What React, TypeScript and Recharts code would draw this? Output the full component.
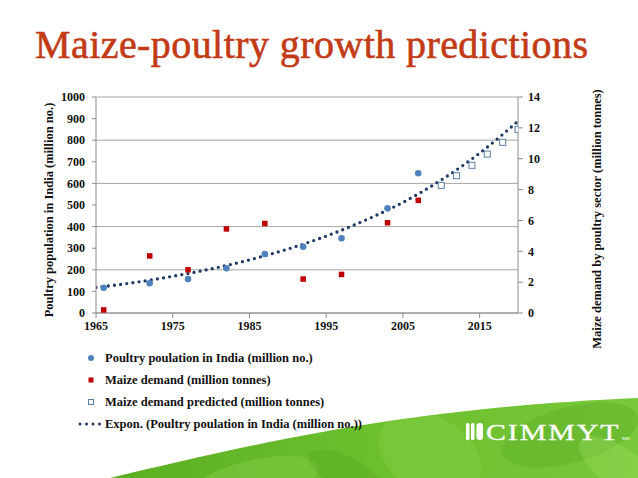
import React from 'react';
import {
  ComposedChart,
  Scatter,
  Line,
  XAxis,
  YAxis,
  CartesianGrid,
} from 'recharts';

// Observed years and values
const years = [1966, 1972, 1977, 1982, 1987, 1992, 1997, 2003, 2007];
const poultryPopulation = [117, 138, 157, 207, 273, 307, 346, 485, 647];
const maizeDemand = [0.2, 3.7, 2.8, 5.45, 5.8, 2.2, 2.5, 5.85, 7.3];

// Projected maize demand
const predictedYears = [2010, 2012, 2014, 2016, 2018, 2020];
const maizePredicted = [8.27, 8.9, 9.57, 10.3, 11.06, 11.9];

// Exponential trend of the poultry population
const trendYears = [1965, 1970, 1975, 1980, 1985, 1990, 1995, 2000, 2005, 2010, 2015, 2020];
const poultryTrend = [118, 141, 170, 204, 246, 296, 356, 428, 512, 616, 740, 888];

const xTicks = [1965, 1975, 1985, 1995, 2005, 2015];
const leftTicks = [0, 100, 200, 300, 400, 500, 600, 700, 800, 900, 1000];
const rightTicks = [0, 2, 4, 6, 8, 10, 12, 14];

const legendLabels = [
  'Poultry poulation in India (million no.)',
  'Maize demand (million tonnes)',
  'Maize demand predicted (million tonnes)',
  'Expon. (Poultry poulation in India (million no.))',
];

const poultryData = years.map((year, i) => ({ year, value: poultryPopulation[i] }));
const maizeData = years.map((year, i) => ({ year, value: maizeDemand[i] }));
const predictedData = predictedYears.map((year, i) => ({ year, value: maizePredicted[i] }));
const trendData = trendYears.map((year, i) => ({ year, value: poultryTrend[i] }));

const SERIF = '"Liberation Serif", "Times New Roman", serif';
const BLUE = '#4f81bd';
const RED = '#c00000';
const NAVY = '#1f3864';
const SQ = 5.5;

const tickStyle = { fontFamily: SERIF, fontSize: 12, fontWeight: 700, fill: '#111' };
const axisTitleStyle = { fontFamily: SERIF, fontSize: 12.5, fontWeight: 700, fill: '#111' };

const BlueDot = (p: any) => <circle cx={p.cx} cy={p.cy} r={3.3} fill={BLUE} />;
const RedSquare = (p: any) => (
  <rect x={p.cx - SQ / 2} y={p.cy - SQ / 2} width={SQ} height={SQ} fill={RED} />
);
const HollowSquare = (p: any) => (
  <rect
    x={p.cx - 3}
    y={p.cy - 3}
    width={6}
    height={6}
    fill="#fff"
    stroke="#5b7fa8"
    strokeWidth={1}
  />
);

function LegendMarker({ index }: { index: number }) {
  return (
    <svg width={30} height={12} style={{ display: 'block' }}>
      {index === 0 && <circle cx={16} cy={6} r={3} fill={BLUE} />}
      {index === 1 && <rect x={13.5} y={3.5} width={5} height={5} fill={RED} />}
      {index === 2 && (
        <rect x={13.5} y={3.5} width={5} height={5} fill="#fff" stroke="#5b7fa8" strokeWidth={1} />
      )}
      {index === 3 && (
        <line
          x1={5}
          y1={6}
          x2={29}
          y2={6}
          stroke={NAVY}
          strokeWidth={3}
          strokeLinecap="round"
          strokeDasharray="0 6.5"
        />
      )}
    </svg>
  );
}

const BAND = 'M 110 478 C 250 445, 400 408, 638 398 L 638 478 Z';

// Green leafy band in the lower right corner with the CIMMYT mark, plus the slide title
function Backdrop() {
  return (
    <svg width={638} height={478} style={{ position: 'absolute', left: 0, top: 0 }}>
      <defs>
        <linearGradient id="leaf" x1="0" y1="0" x2="1" y2="0">
          <stop offset="0" stopColor="#5aae22" />
          <stop offset="0.5" stopColor="#6cbf2d" />
          <stop offset="1" stopColor="#78c83a" />
        </linearGradient>
        <clipPath id="band">
          <path d={BAND} />
        </clipPath>
      </defs>
      <path d={BAND} fill="url(#leaf)" />
      <g clipPath="url(#band)">
        <ellipse cx={250} cy={485} rx={70} ry={24} fill="#8fd556" opacity={0.35} transform="rotate(-15 250 485)" />
        <ellipse cx={430} cy={455} rx={55} ry={38} fill="#8ad34e" opacity={0.35} transform="rotate(30 430 455)" />
        <ellipse cx={570} cy={435} rx={70} ry={28} fill="#4d9d1c" opacity={0.25} transform="rotate(-15 570 435)" />
        <ellipse cx={345} cy={472} rx={40} ry={16} fill="#4d9d1c" opacity={0.25} transform="rotate(25 345 472)" />
        <ellipse cx={620} cy={468} rx={48} ry={20} fill="#9be062" opacity={0.35} transform="rotate(35 620 468)" />
      </g>
      <rect x={466} y={423} width={3.5} height={17} rx={1.5} fill="#fff" />
      <rect x={471} y={423} width={3.5} height={17} rx={1.5} fill="#fff" />
      <rect x={476.5} y={423} width={6.5} height={17} rx={3} fill="#fff" />
      <g transform="translate(486 440) scale(1.3 1)">
        <text
          x={0}
          y={0}
          fontFamily={SERIF}
          fontSize={23}
          fill="#fff"
          stroke="#fff"
          strokeWidth={0.3}
          textLength={102}
          lengthAdjust="spacing"
        >
          CIMMYT
        </text>
      </g>
      <text x={622} y={440} fontFamily={SERIF} fontSize={5} fill="#fff">
        MR
      </text>
      <text
        x={35}
        y={58}
        fontFamily={SERIF}
        fontSize={40}
        fill="#c23b16"
        stroke="#c23b16"
        strokeWidth={0.6}
        textLength={553}
        lengthAdjust="spacing"
      >
        Maize-poultry growth predictions
      </text>
    </svg>
  );
}

export default function App() {
  return (
    <div
      style={{
        position: 'absolute',
        left: 0,
        top: 0,
        width: 638,
        height: 478,
        overflow: 'hidden',
        background: '#fff',
      }}
    >
      <Backdrop />
      <ComposedChart
        width={638}
        height={478}
        margin={{ top: 97, right: 0, bottom: 135, left: 0 }}
        style={{ position: 'absolute', left: 0, top: 0 }}
      >
        <CartesianGrid yAxisId="left" vertical={false} stroke="#a6a6a6" strokeWidth={1} />
        <XAxis
          type="number"
          dataKey="year"
          domain={[1965, 2020]}
          ticks={xTicks}
          height={30}
          tickSize={5}
          tickMargin={3}
          stroke="#8c8c8c"
          tick={tickStyle}
          allowDataOverflow
        />
        <YAxis
          yAxisId="left"
          type="number"
          domain={[0, 1000]}
          ticks={leftTicks}
          width={96}
          tickSize={4}
          tickMargin={7}
          stroke="#8c8c8c"
          tick={tickStyle}
          label={{
            value: 'Poultry population in India (million no.)',
            angle: -90,
            position: 'center',
            dx: 1,
            dy: 5,
            style: axisTitleStyle,
          }}
        />
        <YAxis
          yAxisId="right"
          orientation="right"
          type="number"
          domain={[0, 14]}
          ticks={rightTicks}
          width={120}
          tickSize={5}
          tickMargin={5}
          stroke="#8c8c8c"
          tick={tickStyle}
          label={{
            value: 'Maize demand by poultry sector (million tonnes)',
            angle: -90,
            position: 'center',
            dx: 19,
            dy: 14,
            style: axisTitleStyle,
          }}
        />
        <Line
          yAxisId="left"
          data={trendData}
          dataKey="value"
          type="monotone"
          stroke={NAVY}
          strokeWidth={3.3}
          strokeLinecap="round"
          strokeDasharray="0 6.2"
          dot={false}
          activeDot={false}
          isAnimationActive={false}
        />
        <Scatter
          yAxisId="left"
          data={poultryData}
          dataKey="value"
          shape={BlueDot}
          isAnimationActive={false}
        />
        <Scatter
          yAxisId="right"
          data={maizeData}
          dataKey="value"
          shape={RedSquare}
          isAnimationActive={false}
        />
        <Scatter
          yAxisId="right"
          data={predictedData}
          dataKey="value"
          shape={HollowSquare}
          isAnimationActive={false}
        />
      </ComposedChart>
      <div style={{ position: 'absolute', left: 75, top: 347 }}>
        {legendLabels.map((label, i) => (
          <div
            key={label}
            style={{ display: 'flex', alignItems: 'center', height: 22 }}
          >
            <LegendMarker index={i} />
            <span
              style={{
                fontFamily: SERIF,
                fontSize: 12.5,
                fontWeight: 700,
                color: '#111',
                whiteSpace: 'nowrap',
              }}
            >
              {label}
            </span>
          </div>
        ))}
      </div>
    </div>
  );
}
